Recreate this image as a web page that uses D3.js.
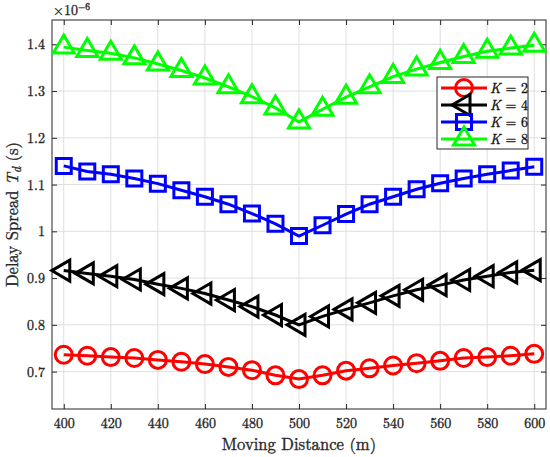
<!DOCTYPE html>
<html>
<head>
<meta charset="utf-8">
<script src="https://cdn.jsdelivr.net/npm/d3@7/dist/d3.min.js"></script>
<style>
  body { margin: 0; background: #fff; }
  text { font-family: "Latin Modern Roman", "CMU Serif", "DejaVu Serif", serif; }
  .ink { stroke: #262626; stroke-width: 0.35px; }
</style>
</head>
<body>
<script>
// moving distance (m)
const distance = [400, 410, 420, 430, 440, 450, 460, 470, 480, 490, 500,
                  510, 520, 530, 540, 550, 560, 570, 580, 590, 600];

// delay spread, x 1e-6 s
const k2 = [0.736, 0.734, 0.731, 0.729, 0.725, 0.721, 0.716, 0.710, 0.703, 0.692, 0.684,
            0.692, 0.702, 0.707, 0.713, 0.718, 0.723, 0.729, 0.731, 0.734, 0.738];
const k4 = [0.916, 0.910, 0.904, 0.897, 0.887, 0.878, 0.867, 0.853, 0.839, 0.821, 0.800,
            0.818, 0.833, 0.847, 0.862, 0.875, 0.885, 0.896, 0.904, 0.912, 0.917];
const k6 = [1.140, 1.128, 1.122, 1.113, 1.102, 1.088, 1.074, 1.058, 1.038, 1.016, 0.990,
            1.013, 1.037, 1.058, 1.074, 1.090, 1.103, 1.113, 1.122, 1.130, 1.138];
const k8 = [1.394, 1.387, 1.381, 1.371, 1.358, 1.344, 1.328, 1.309, 1.288, 1.264, 1.234,
            1.261, 1.287, 1.309, 1.331, 1.347, 1.361, 1.374, 1.385, 1.392, 1.398];

const xTicks = [400, 420, 440, 460, 480, 500, 520, 540, 560, 580, 600];
const yTicks = [0.7, 0.8, 0.9, 1.0, 1.1, 1.2, 1.3, 1.4];

const series = [
  { name: "2", values: k2, color: "#ff0000", marker: "circle" },
  { name: "4", values: k4, color: "#000000", marker: "left" },
  { name: "6", values: k6, color: "#0000ff", marker: "square" },
  { name: "8", values: k8, color: "#00ff00", marker: "up" }
];

const W = 550, H = 457;
const L = 52, R = 546, T = 20, B = 409;
const axisColor = "#262626";

const svg = d3.select("body").append("svg")
  .attr("width", W).attr("height", H);

const x = d3.scaleLinear().domain([395, 605]).range([L, R]);
const y = d3.scaleLinear().domain([0.62, 1.452]).range([B, T]);

// grid
svg.append("g").selectAll("line").data(xTicks).enter().append("line")
  .attr("x1", d => x(d)).attr("x2", d => x(d))
  .attr("y1", T).attr("y2", B)
  .attr("stroke", "#dfdfdf").attr("stroke-width", 1);
svg.append("g").selectAll("line").data(yTicks).enter().append("line")
  .attr("x1", L).attr("x2", R)
  .attr("y1", d => y(d)).attr("y2", d => y(d))
  .attr("stroke", "#dfdfdf").attr("stroke-width", 1);

// axes (ticks inward, box on)
function styleAxis(g) {
  g.select(".domain").remove();
  g.selectAll(".tick line").attr("stroke", axisColor).attr("stroke-width", 1);
  g.selectAll(".tick text")
    .attr("fill", axisColor)
    .attr("class", "ink")
    .style("font-size", "14px");
}
svg.append("g").attr("transform", `translate(0,${B})`)
  .call(d3.axisBottom(x).tickValues(xTicks).tickSizeInner(-5).tickPadding(9))
  .call(styleAxis);
svg.append("g").attr("transform", `translate(0,${T})`)
  .call(d3.axisTop(x).tickValues(xTicks).tickSizeInner(-5).tickFormat(""))
  .call(styleAxis);
svg.append("g").attr("transform", `translate(${L},0)`)
  .call(d3.axisLeft(y).tickValues(yTicks).tickSizeInner(-5).tickPadding(7)
    .tickFormat(d => d === 1 ? "1" : d3.format(".1f")(d)))
  .call(styleAxis);
svg.append("g").attr("transform", `translate(${R},0)`)
  .call(d3.axisRight(y).tickValues(yTicks).tickSizeInner(-5).tickFormat(""))
  .call(styleAxis);

svg.append("rect")
  .attr("x", L).attr("y", T).attr("width", R - L).attr("height", B - T)
  .attr("fill", "none").attr("stroke", axisColor).attr("stroke-width", 1);

// markers
function markerPath(type) {
  if (type === "circle") return d3.arc()({ innerRadius: 0, outerRadius: 8.5, startAngle: 0, endAngle: 2 * Math.PI });
  if (type === "square") return "M-7.5,-7.5H7.5V7.5H-7.5Z";
  if (type === "up") return "M0,-12L10.5,6L-10.5,6Z";
  if (type === "left") return "M-12,0L6,-10.5L6,10.5Z";
}

const plot = svg.append("g");
const line = d3.line().x((d, i) => x(distance[i])).y(d => y(d));

series.forEach(s => {
  const g = plot.append("g");
  g.append("path")
    .attr("d", line(s.values))
    .attr("fill", "none").attr("stroke", s.color).attr("stroke-width", 3);
  g.selectAll("path.m").data(s.values).enter().append("path")
    .attr("class", "m")
    .attr("transform", (d, i) => `translate(${x(distance[i])},${y(d)})`)
    .attr("d", markerPath(s.marker))
    .attr("fill", "none").attr("stroke", s.color).attr("stroke-width", 3)
    .attr("stroke-linejoin", "miter");
});

// exponent label
const ex = svg.append("text")
  .attr("x", L + 1).attr("y", 15)
  .attr("class", "ink")
  .attr("fill", axisColor).style("font-size", "14px");
ex.append("tspan").text("\u00d710");
ex.append("tspan").attr("dy", -5).style("font-size", "9.5px").text("\u22126");

// axis labels
svg.append("text")
  .attr("x", (L + R) / 2).attr("y", 450)
  .attr("class", "ink")
  .attr("text-anchor", "middle").attr("fill", axisColor)
  .style("font-size", "16.6px")
  .text("Moving Distance (m)");

const yl = svg.append("text")
  .attr("transform", `translate(18,${(T + B) / 2}) rotate(-90)`)
  .attr("class", "ink")
  .attr("text-anchor", "middle").attr("fill", axisColor)
  .style("font-size", "16.6px");
yl.append("tspan").text("Delay Spread ");
yl.append("tspan").style("font-style", "italic").text("T");
yl.append("tspan").attr("dy", 3).style("font-size", "12px").style("font-style", "italic").text("d");
yl.append("tspan").attr("dy", -3).text(" (s)");

// legend
const lg = svg.append("g").attr("transform", "translate(437,77)");
lg.append("rect").attr("width", 91).attr("height", 72)
  .attr("fill", "#fff").attr("stroke", axisColor).attr("stroke-width", 1);
series.forEach((s, i) => {
  const cy = 11 + i * 17;
  const row = lg.append("g").attr("transform", `translate(0,${cy})`);
  row.append("line").attr("x1", 4).attr("x2", 50).attr("y1", 0).attr("y2", 0)
    .attr("stroke", s.color).attr("stroke-width", 3);
  row.append("path").attr("transform", "translate(27,0)")
    .attr("d", markerPath(s.marker))
    .attr("fill", "none").attr("stroke", s.color).attr("stroke-width", 3);
  const t = row.append("text").attr("x", 53).attr("y", 5)
    .attr("class", "ink")
    .attr("fill", "#000").style("font-size", "14px");
  t.append("tspan").style("font-style", "italic").text("K");
  t.append("tspan").text(" = " + s.name);
});
</script>
</body>
</html>
